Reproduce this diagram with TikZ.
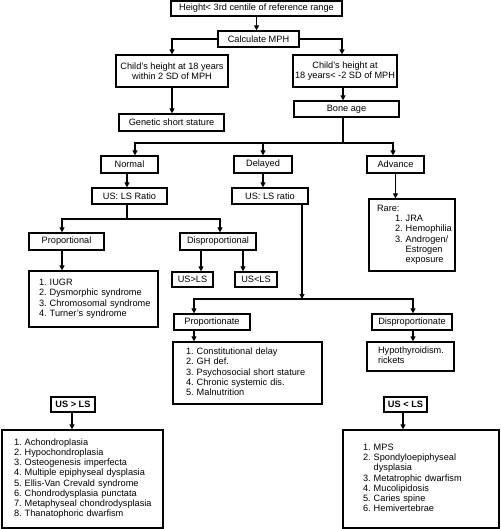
\documentclass[tikz,border=0pt]{standalone}
\usepackage{fontspec}
\setmainfont{Liberation Sans}
\usetikzlibrary{arrows.meta}
\frenchspacing
\newcommand{\fsz}{\fontsize{9.2}{10.2}\selectfont}
\begin{document}
\begin{tikzpicture}[x=1pt,y=-1pt,
  box/.style={draw, line width=1.3pt, inner sep=0pt, align=center},
  lbox/.style={draw, line width=1.3pt, inner ysep=0pt, align=left},
  bbox/.style={draw, line width=2pt, inner sep=0pt, align=center, font=\bfseries\fsz},
  arr/.style={line width=1.3pt, -{Triangle[length=5pt,width=5pt]}},
  ln/.style={line width=1.3pt},
  font=\fsz]
\useasboundingbox[fill=white] (0,0) rectangle (500,529);

\node[box, minimum width=171, minimum height=15] (top) at (256.5,8.5) {Height< 3rd centile of reference range};
\node[box, minimum width=81, minimum height=16] (calc) at (258.5,39) {Calculate MPH};
\node[box, minimum width=112, minimum height=32] (lchild) at (172,71) {Child's height at 18 years\\within 2 SD of MPH};
\node[box, minimum width=104, minimum height=32] (rchild) at (345,71) {Child's height at\\18 years< -2 SD of MPH};
\node[box, minimum width=105, minimum height=16] (bone) at (346.5,109) {Bone age};
\node[box, minimum width=105, minimum height=17] (gen) at (171.5,122.5) {Genetic short stature};
\node[box, minimum width=57, minimum height=17] (normal) at (129.5,164.5) {Normal};
\node[box, minimum width=58, minimum height=17] (delayed) at (263,164.5) {Delayed};
\node[box, minimum width=57, minimum height=17] (advance) at (395.5,164.5) {Advance};
\node[box, minimum width=75, minimum height=16] (usls1) at (129.5,196) {US: LS Ratio};
\node[box, minimum width=76, minimum height=16] (usls2) at (270,196) {US: LS ratio};
\node[lbox, inner xsep=8, text width=70, minimum height=72] (rare) at (412,235) {\begin{tabular}{@{\hspace*{18pt}}l@{\ }l@{}}\multicolumn{2}{@{}l@{}}{Rare:}\\1. & JRA\\2. & Hemophilia\\3. & Androgen/\\ & Estrogen\\ & exposure\end{tabular}};
\node[box, minimum width=75, minimum height=17] (prop) at (66.5,241.5) {Proportional};
\node[box, minimum width=76, minimum height=17] (disp) at (218,241.5) {Disproportional};
\node[lbox, inner xsep=10, text width=109, minimum height=56] (iugr) at (93.5,299) {\begin{tabular}{@{}l@{}}1. IUGR\\2. Dysmorphic syndrome\\3. Chromosomal syndrome\\4. Turner's syndrome\end{tabular}};
\node[box, minimum width=41, minimum height=15] (usgtls) at (192.5,279.5) {US>LS};
\node[box, minimum width=42, minimum height=15] (usltls) at (256,279.5) {US<LS};
\node[box, minimum width=76, minimum height=16] (propn) at (212,322) {Proportionate};
\node[box, minimum width=80, minimum height=16] (dispn) at (412,322) {Disproportionate};
\node[lbox, inner xsep=13, text width=123, minimum height=62] (const) at (247.5,373) {\begin{tabular}{@{}l@{}}1. Constitutional delay\\2. GH def.\\3. Psychosocial short stature\\4. Chronic systemic dis.\\5. Malnutrition\end{tabular}};
\node[lbox, inner xsep=11, text width=65, minimum height=29] (hypo) at (410.5,356.5) {\begin{tabular}{@{}l@{}}Hypothyroidism.\\rickets\end{tabular}};
\node[bbox, minimum width=44, minimum height=15] (usgt) at (73,404.5) {US > LS};
\node[bbox, minimum width=43, minimum height=15] (uslt) at (405.5,404.5) {US < LS};
\node[lbox, inner xsep=12, text width=137, minimum height=98] (achon) at (82.5,479) {\begin{tabular}{@{}l@{}}1. Achondroplasia\\2. Hypochondroplasia\\3. Osteogenesis imperfecta\\4. Multiple epiphyseal dysplasia\\5. Ellis-Van Crevald syndrome\\6. Chondrodysplasia punctata\\7. Metaphyseal chondrodysplasia\\8. Thanatophoric dwarfism\end{tabular}};
\node[lbox, inner xsep=20, text width=116, minimum height=98] (mps) at (421,479) {\begin{tabular}{@{}l@{\ }l@{}}1. & MPS\\2. & Spondyloepiphyseal\\ & dysplasia\\3. & Metatrophic dwarfism\\4. & Mucolipidosis\\5. & Caries spine\\6. & Hemivertebrae\end{tabular}};

\coordinate (j1) at (343,143);
\coordinate (j2) at (127,219);
\coordinate (j3) at (302,299);

\draw[arr] (top.south) -- (top.south |- calc.north);
\draw[arr] (calc.west) -| (lchild.north);
\draw[arr] (calc.east) -| ([xshift=-3pt]rchild.north);
\draw[arr] ([xshift=-2pt]rchild.south) -- ([xshift=-2pt]rchild.south |- bone.north);
\draw[arr] (lchild.south) -- (lchild.south |- gen.north);
\draw[ln] (bone.south -| j1) -- (j1);
\draw[arr] (j1) -| ([xshift=5.5pt]normal.north);
\draw[arr] (j1) -| ([xshift=-2.5pt]advance.north);
\draw[arr] (j1 -| delayed.north) -- (delayed.north);
\draw[arr] ([xshift=-2.5pt]normal.south) -- ([xshift=-2.5pt]normal.south |- usls1.north);
\draw[arr] (delayed.south) -- (delayed.south |- usls2.north);
\draw[arr] (advance.south) -- (advance.south |- rare.north);
\draw[ln] (usls1.south -| j2) -- (j2);
\draw[arr] (j2) -| ([xshift=-4.5pt]prop.north);
\draw[arr] (j2) -| ([xshift=2pt]disp.north);
\draw[arr] (usls2.south -| j3) -- (j3);
\draw[arr] (j3) -| ([xshift=-18pt]propn.north);
\draw[arr] (j3) -| ([xshift=1pt]dispn.north);
\draw[arr] ([xshift=-4.5pt]prop.south) -- ([xshift=-4.5pt]prop.south |- iugr.north);
\draw[arr] ([xshift=-17pt]disp.south) -- ([xshift=-17pt]disp.south |- usgtls.north);
\draw[arr] ([xshift=25pt]disp.south) -- ([xshift=25pt]disp.south |- usltls.north);
\draw[arr] ([xshift=-18pt]propn.south) -- ([xshift=-18pt]propn.south |- const.north);
\draw[arr] ([xshift=1pt]dispn.south) -- ([xshift=1pt]dispn.south |- hypo.north);
\draw[arr] ([xshift=-1pt]usgt.south) -- ([xshift=-1pt]usgt.south |- achon.north);
\draw[arr] ([xshift=-2.5pt]uslt.south) -- ([xshift=-2.5pt]uslt.south |- mps.north);
\end{tikzpicture}
\end{document}
